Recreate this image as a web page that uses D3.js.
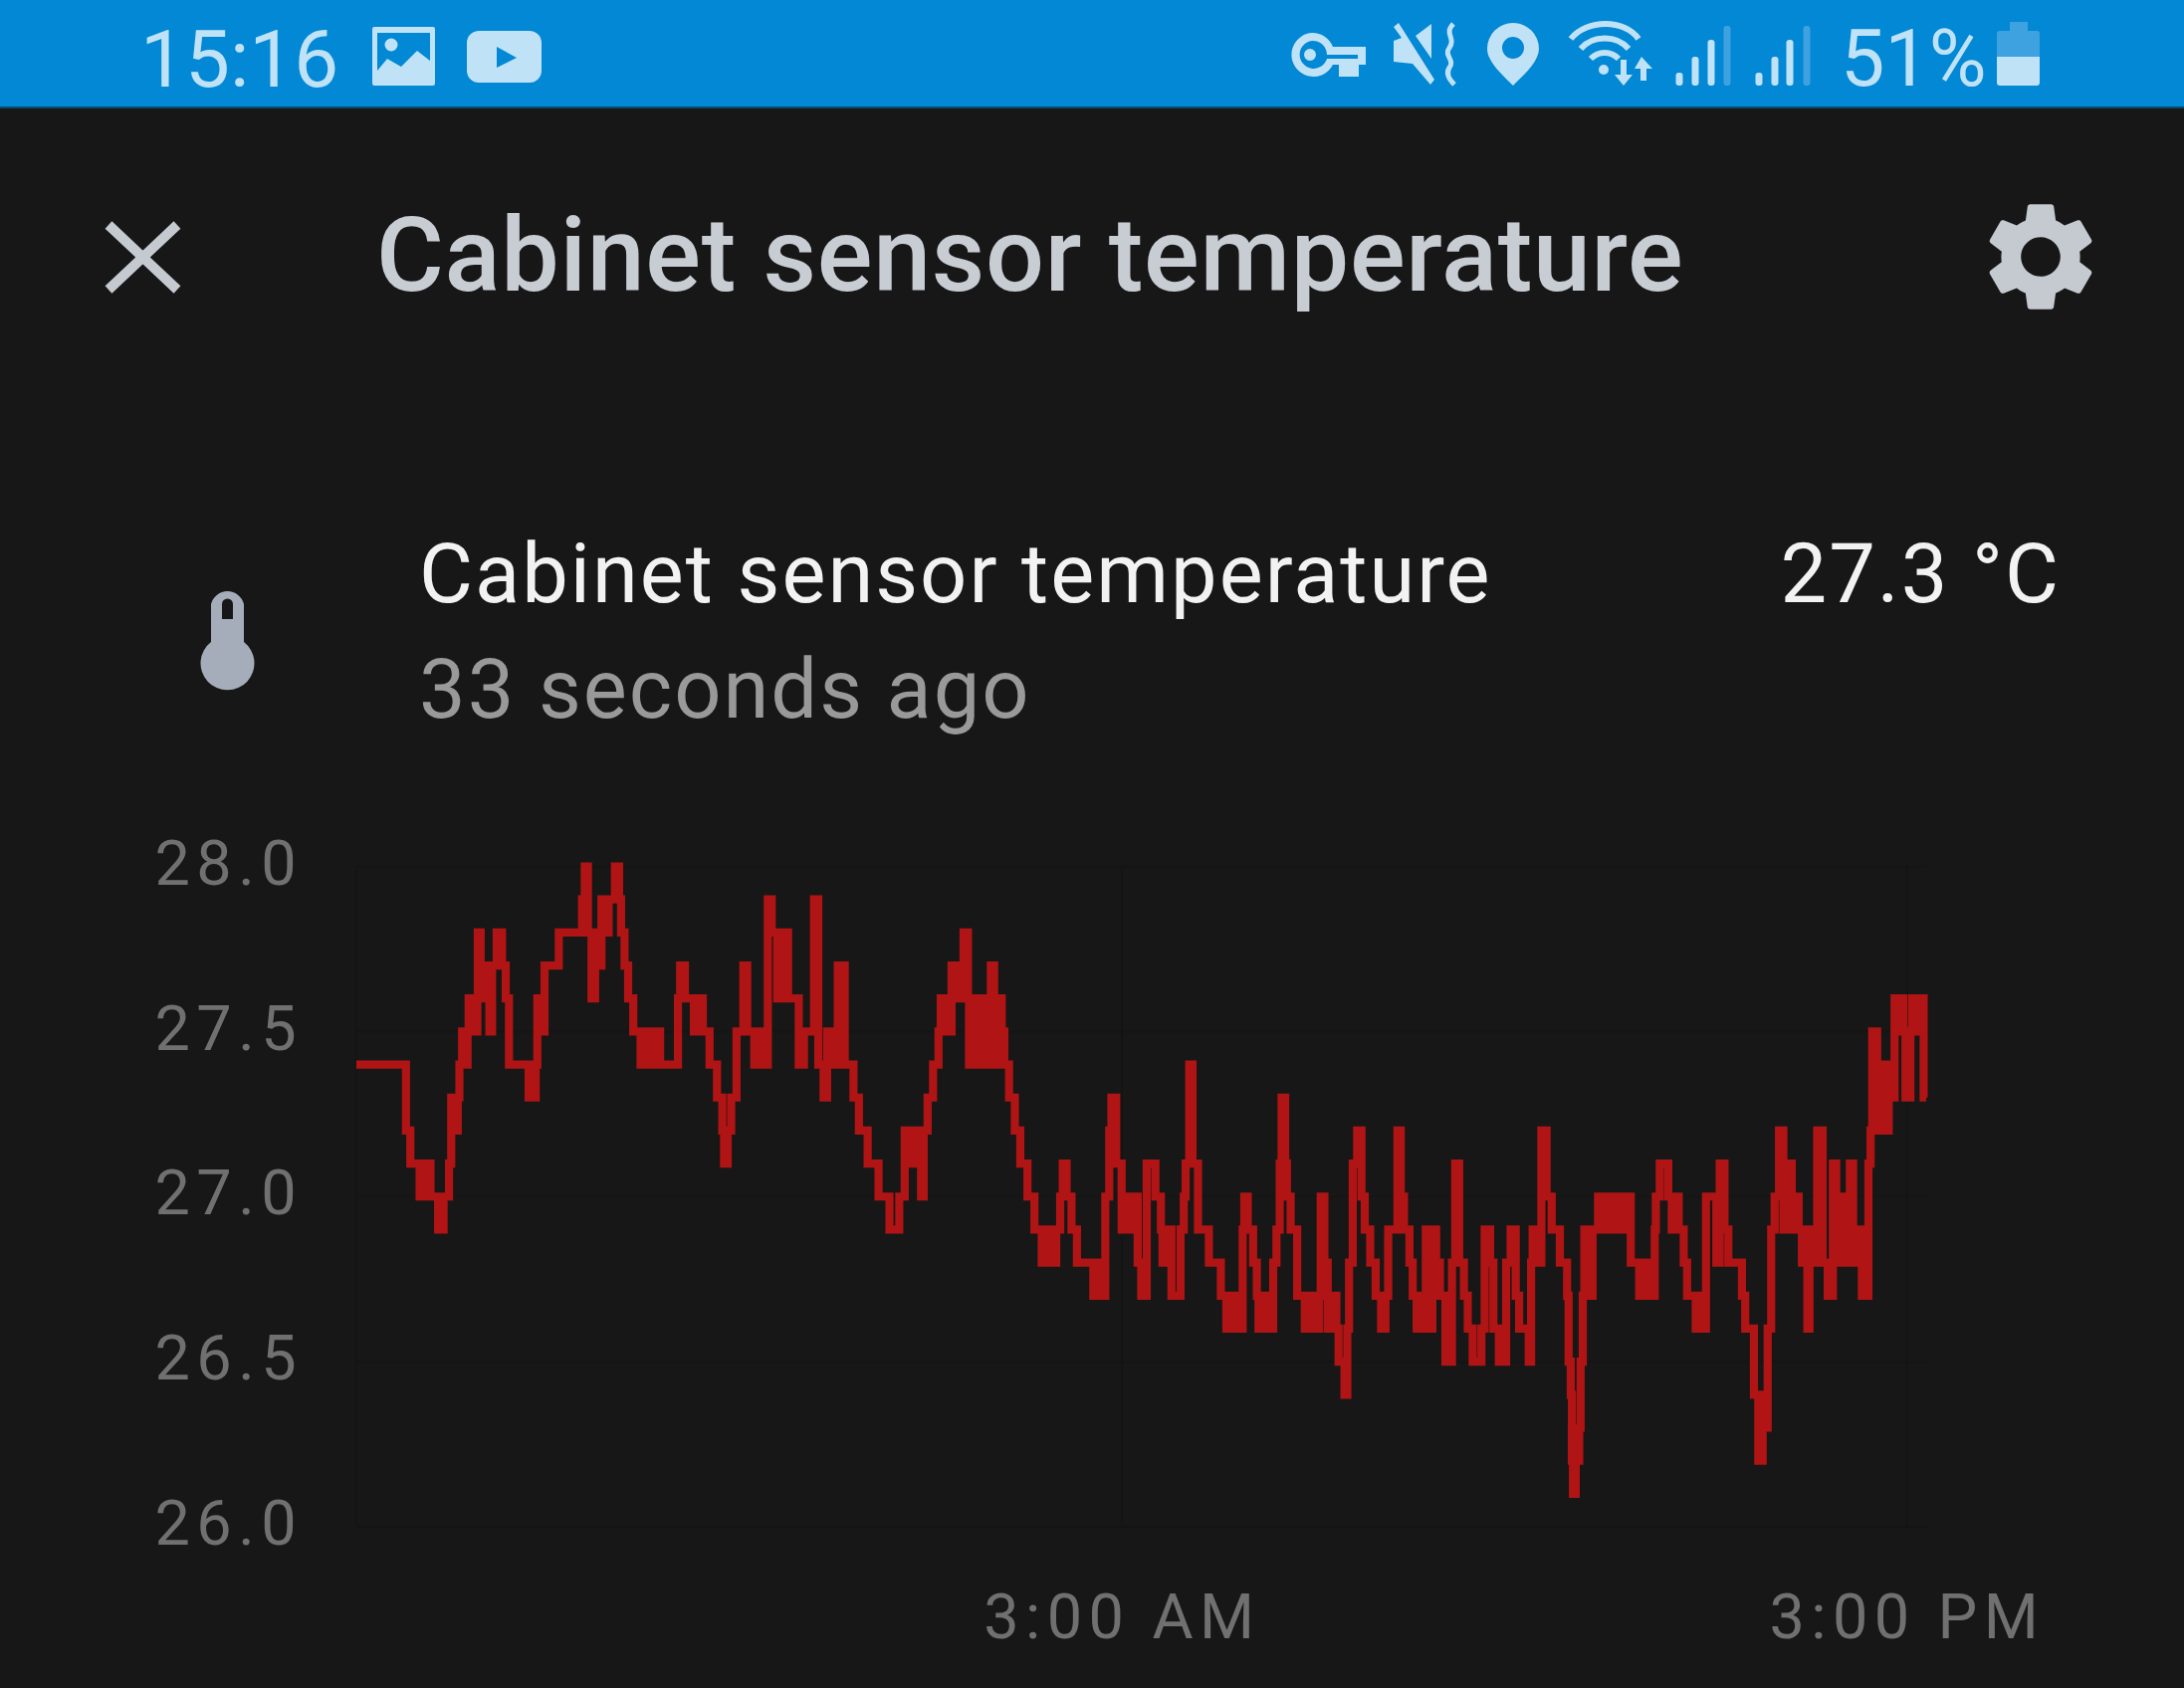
<!DOCTYPE html>
<html><head><meta charset="utf-8">
<script src="https://cdn.jsdelivr.net/npm/d3@7"></script>
<style>html,body{margin:0;padding:0;background:#171717;overflow:hidden}svg{display:block}text{font-family:Roboto,sans-serif}</style>
</head><body><svg id="c" width="2194" height="1696"></svg>
<script>
const titleText = "Cabinet sensor temperature";
const stateText = "27.3 °C";
const agoText = "33 seconds ago";
const yTicks = [28.0, 27.5, 27.0, 26.5, 26.0];
const xTickHours = [3, 15];
const minutes = [0,45.5,49.5,58,62,68,75,80,85,87,90.5,93,94.5,97,99.6,102,103,107,111,111.4,114,119,122,124.5,128.7,133.6,137,140,158,164.5,166,168.8,172.6,185.7,207,209.5,212.4,215.7,219,221.6,224.8,228,231.4,237.2,241,242.8,246,249.3,254,260.7,265.6,270.5,274.7,278.6,295,297,301.4,309.6,313.5,317.8,324,330.8,335.7,337.3,340.6,343.8,348.7,355,358.5,365,370,374,377.4,381,386,391,396,405.8,410.6,419.8,423.7,428.6,431.8,436.7,441.6,445,448,451.4,456,461,469,479,489,498,503,508,514.6,518,520.4,524,529,534,536,541,546,553,557,561,562,566,569,573,578,582,585,589,592,594.4,598.7,604,609,615.6,622,628.7,633.6,638,642,645.6,648,651.5,656,661,676,681,684.7,687,690.6,692.6,697,702,705,708.5,713.4,716.7,720,725,729,733,738,739.5,744,747.7,752.5,756,759,760.7,764,767,772,782,793,798,800,805,809.6,813,814.5,817.7,822.6,826,827.5,832.4,837,841,844,847,848.7,852,853.6,857,863,870,875,880,883,884.6,888,891,894,899,901,906.4,909,910.6,914,918,922,925,930,935,940,944,946.5,955,958,961,966,969,972.6,977,981,984,987,990.5,994,999,1004,1005,1008,1011.6,1016,1019.5,1024,1032,1035,1040,1043,1048,1054.7,1058.8,1063.5,1066.6,1075.4,1077.6,1079,1084,1087,1091.8,1096.5,1104,1110.6,1112,1114,1115,1116,1118.5,1121.7,1123,1125,1126.4,1129.5,1134,1139,1143.7,1146.8,1151.5,1156,1162.5,1165.7,1169,1176.7,1181.4,1187.7,1191,1192,1195.6,1203.4,1206.6,1209.7,1213,1217.6,1220.7,1228.6,1233.3,1236.5,1238,1242.7,1247.5,1250.6,1255,1258.5,1271,1274,1282,1286,1290,1293,1294.6,1297.8,1301,1305,1309,1312,1316.7,1320,1323,1326,1331,1333,1337,1340,1345,1349.7,1354.4,1357.5,1362,1367,1370,1373,1378,1381,1387,1389,1390.5,1395,1398,1402.5,1405.6,1408.8,1411,1414,1417,1419,1421,1425.5,1427,1431,1433,1437.7,1440];
const temps = [27.4,27.2,27.1,27.0,27.1,27.0,26.9,27.0,27.1,27.3,27.2,27.3,27.4,27.5,27.4,27.5,27.6,27.5,27.6,27.8,27.6,27.7,27.5,27.7,27.8,27.7,27.6,27.4,27.3,27.4,27.6,27.5,27.7,27.8,27.9,28.0,27.8,27.6,27.8,27.7,27.9,27.8,27.9,28.0,27.9,27.8,27.7,27.6,27.5,27.4,27.5,27.4,27.5,27.4,27.6,27.7,27.6,27.5,27.6,27.5,27.4,27.3,27.2,27.1,27.2,27.3,27.5,27.7,27.5,27.4,27.5,27.4,27.9,27.8,27.6,27.8,27.6,27.4,27.5,27.9,27.4,27.3,27.5,27.4,27.7,27.7,27.4,27.4,27.3,27.2,27.1,27.0,26.9,27.0,27.2,27.1,27.2,27.0,27.2,27.3,27.4,27.5,27.6,27.5,27.7,27.6,27.8,27.6,27.4,27.6,27.4,27.6,27.4,27.7,27.4,27.6,27.5,27.4,27.3,27.2,27.1,27.0,26.9,26.8,26.9,26.8,26.9,27.0,27.1,27.0,26.9,26.8,26.7,26.8,26.7,27.0,27.2,27.3,27.1,26.9,27.0,26.9,27.0,26.8,26.7,27.1,27.1,27.0,26.9,26.8,26.9,26.7,26.7,26.9,27.0,27.1,27.4,27.1,26.9,26.8,26.7,26.6,26.6,26.7,26.6,26.9,27.0,26.9,26.8,26.7,26.6,26.7,26.6,26.8,26.9,27.1,27.3,27.1,27.0,26.9,26.7,26.6,26.7,26.6,26.7,27.0,26.8,26.6,26.7,26.6,26.5,26.4,26.6,26.8,27.1,27.2,27.0,26.9,26.8,26.7,26.6,26.7,26.9,27.2,27.0,26.9,26.8,26.7,26.6,26.7,26.9,26.6,26.9,26.8,26.7,26.5,26.5,26.8,27.1,26.8,26.7,26.6,26.5,26.6,26.9,26.8,26.6,26.5,26.8,26.9,26.7,26.6,26.5,26.8,26.9,26.8,27.2,27.0,26.9,26.8,26.7,26.5,26.4,26.2,26.1,26.2,26.3,26.5,26.7,26.9,26.7,26.9,27.0,26.9,27.0,26.9,27.0,26.9,27.0,26.8,26.7,26.8,26.7,26.9,27.0,27.1,27.0,26.9,27.0,26.9,26.8,26.7,26.6,26.7,26.6,27.0,27.0,26.8,27.1,26.9,26.8,26.7,26.6,26.4,26.2,26.4,26.3,26.6,26.9,27.0,27.2,26.9,27.1,26.9,27.0,26.9,26.8,26.6,26.9,26.8,27.2,26.8,26.7,27.1,26.8,27.0,26.8,27.1,26.8,26.9,26.7,27.1,27.2,27.5,27.2,27.4,27.2,27.4,27.3,27.6,27.5,27.6,27.5,27.3,27.5,27.6,27.5,27.6,27.3,27.3];

const startTime = new Date(2021, 5, 1, 15, 18);
const series = minutes.map((m, i) => ({t: new Date(startTime.getTime() + m * 60000), v: temps[i]}));

const svg = d3.select("#c");
const ink = "#bfe2f6", dim = "#3fa2e0";

// status bar
svg.append("rect").attr("width", 2194).attr("height", 107).attr("fill", "#0288d4");
svg.append("rect").attr("y", 107).attr("width", 2194).attr("height", 2).attr("fill", "#0a4a70");
svg.append("text").attr("x", 141).attr("y", 87).attr("font-size", 80).attr("fill", ink).text("15:16");
svg.append("text").attr("x", 1849).attr("y", 86).attr("font-size", 79).attr("fill", ink).text("51%");

// picture icon
svg.append("path").attr("fill", ink).attr("fill-rule", "evenodd").attr("d", "M376 27H435a2 2 0 0 1 2 2V84a2 2 0 0 1-2 2H376a2 2 0 0 1-2-2V29a2 2 0 0 1 2-2ZM379 33V71L389 59 403 67 419 51 432 61V33Z");
svg.append("circle").attr("cx", 393).attr("cy", 45).attr("r", 6.5).attr("fill", ink);
// video icon
svg.append("rect").attr("x", 469).attr("y", 31).attr("width", 75).attr("height", 52).attr("rx", 12).attr("fill", ink);
svg.append("path").attr("d", "M499 47L519 58 499 68Z").attr("fill", "#0288d4");
// key icon
svg.append("path").attr("fill-rule", "evenodd").attr("fill", ink).attr("d", "M1318 33A22 22 0 0 1 1339 47H1372V65H1365V77H1345V65H1339A22 22 0 1 1 1318 33ZM1318 41A14 14 0 1 0 1333 59H1364V55H1333A14 14 0 0 0 1318 41ZM1316 49A6 6 0 1 1 1316 61 6 6 0 0 1 1316 49Z");
// vibrate / mute icon
svg.append("path").attr("fill", ink).attr("d", "M1400 27L1405 23 1441 80 1437 85 1419 64 1400 62V41L1408 38ZM1422 36L1438 24V59Z");
svg.append("path").attr("fill", "none").attr("stroke", ink).attr("stroke-width", 5).attr("d", "M1460 24C1450 34 1463 38 1456 48C1450 56 1462 60 1456 68C1452 74 1456 80 1461 85");
// pin icon
svg.append("path").attr("fill-rule", "evenodd").attr("fill", ink).attr("d", "M1520 23A26 26 0 0 1 1546 49C1546 62 1530 76 1520 86 1510 76 1494 62 1494 49A26 26 0 0 1 1520 23ZM1520 37A11 11 0 1 0 1520 59 11 11 0 0 0 1520 37Z");
// wifi icon
const wifi = svg.append("g").attr("fill", "none").attr("stroke", ink).attr("stroke-width", 6);
wifi.append("path").attr("d", "M1578 39C1594 19 1632 19 1646 39");
wifi.append("path").attr("d", "M1588 49C1600 35 1624 35 1636 49");
wifi.append("path").attr("d", "M1598 59C1606 51 1618 51 1626 59");
svg.append("circle").attr("cx", 1611).attr("cy", 70).attr("r", 5).attr("fill", ink);
svg.append("path").attr("fill", ink).attr("d", "M1628 60H1634V75H1640L1631 86 1622 75H1628ZM1649 57L1660 69H1654V81H1648V69H1642Z");
// signal icons
[[1687,73,ink],[1703,57,ink],[1719,40,ink],[1735,26,dim],[1767,73,ink],[1783,57,ink],[1798,40,ink],[1815,26,dim]].forEach(b => {
  svg.append("rect").attr("x", b[0]-3.5).attr("y", b[1]).attr("width", 7).attr("height", 86-b[1]).attr("rx", 3).attr("fill", b[2]);
});
// battery icon
svg.append("path").attr("fill", dim).attr("d", "M2019 22H2037V31H2046Q2049 31 2049 34V57H2006V34Q2006 31 2009 31H2019Z");
svg.append("path").attr("fill", ink).attr("d", "M2006 57H2049V83Q2049 86 2046 86H2009Q2006 86 2006 83Z");

// header
svg.append("path").attr("d", "M109 226L178 291M178 226L109 291").attr("stroke", "#c5cad1").attr("stroke-width", 10).attr("fill", "none");
svg.append("text").attr("x", 378).attr("y", 292).attr("font-size", 104).attr("letter-spacing", 0.7).attr("font-weight", 500).attr("fill", "#c8ccd3").text(titleText);
svg.append("path").attr("transform", "translate(1984,192) scale(5.5)").attr("fill", "#c5cad1").attr("fill-rule", "evenodd")
  .attr("d", "M19.14 12.94c.04-.3.06-.61.06-.94 0-.32-.02-.64-.07-.94l2.03-1.58c.18-.14.23-.41.12-.61l-1.92-3.32c-.12-.22-.37-.29-.59-.22l-2.39.96c-.5-.38-1.03-.7-1.62-.94l-.36-2.54c-.04-.24-.24-.41-.48-.41h-3.84c-.24 0-.43.17-.47.41l-.36 2.54c-.59.24-1.13.57-1.62.94l-2.39-.96c-.22-.08-.47 0-.59.22L2.74 8.87c-.12.21-.08.47.12.61l2.03 1.58c-.05.3-.09.63-.09.94s.02.64.07.94l-2.03 1.58c-.18.14-.23.41-.12.61l1.92 3.32c.12.22.37.29.59.22l2.39-.96c.5.38 1.03.7 1.62.94l.36 2.54c.05.24.24.41.48.41h3.84c.24 0 .44-.17.47-.41l.36-2.54c.59-.24 1.13-.56 1.62-.94l2.39.96c.22.08.47 0 .59-.22l1.92-3.32c.12-.22.07-.47-.12-.61l-2.01-1.58zM12 15.6c-1.98 0-3.6-1.62-3.6-3.6s1.62-3.6 3.6-3.6 3.6 1.62 3.6 3.6-1.62 3.6-3.6 3.6z");

// state row
svg.append("path").attr("fill", "#a5adba").attr("fill-rule", "evenodd").attr("d", "M212 645V607A17 17 0 0 1 245 607V645A27 27 0 1 1 212 645ZM223 622H234V607A5.5 5.5 0 0 0 223 607Z");
svg.append("text").attr("x", 421).attr("y", 605).attr("font-size", 83).attr("letter-spacing", 2).attr("fill", "#f2f2f2").text(titleText);
svg.append("text").attr("x", 421).attr("y", 721).attr("font-size", 83).attr("letter-spacing", 2).attr("fill", "#999").text(agoText);
svg.append("text").attr("x", 2070).attr("y", 605).attr("font-size", 83).attr("letter-spacing", 2).attr("text-anchor", "end").attr("fill", "#f2f2f2").text(stateText);

// chart
const x = d3.scaleTime().domain([startTime, d3.timeMinute.offset(startTime, 1440)]).range([358, 1935]);
const y = d3.scaleLinear().domain([26, 28]).range([1534, 870.5]);
const grid = "#131313", tickInk = "#707070";
const tickTimes = xTickHours.map(h => new Date(2021, 5, 2, h, 0));

const yAxis = d3.axisLeft(y).tickValues(yTicks).tickSize(0).tickPadding(54).tickFormat(d3.format(".1f"));
const xAxis = d3.axisBottom(x).tickValues(tickTimes).tickSize(0).tickPadding(99).tickFormat(d3.timeFormat("%-I:%M %p"));
const gy = svg.append("g").attr("transform", "translate(358,0)").call(yAxis);
const gx = svg.append("g").attr("transform", "translate(0,1534)").call(xAxis);
[gx, gy].forEach(g => {
  g.select(".domain").remove();
  g.selectAll("text").attr("font-family", "Roboto, sans-serif").attr("font-size", 63).attr("letter-spacing", 6.4).attr("fill", tickInk);
});
gy.selectAll("text").attr("dy", "0.28em");
gx.selectAll("text").attr("dy", "0.2em");

svg.append("g").selectAll("line").data(yTicks).join("line")
  .attr("x1", 358).attr("x2", 1936).attr("y1", d => y(d)).attr("y2", d => y(d))
  .attr("stroke", grid).attr("stroke-width", 2).attr("opacity", d => d === 26 ? 1 : .4);
svg.append("g").selectAll("line").data([startTime, ...tickTimes]).join("line")
  .attr("x1", d => x(d)).attr("x2", d => x(d)).attr("y1", y(28)).attr("y2", y(26))
  .attr("stroke", grid).attr("stroke-width", 2).attr("opacity", .6);

const line = d3.line().x(d => x(d.t)).y(d => y(d.v)).curve(d3.curveStepAfter);
svg.append("path").datum(series).attr("d", line).attr("fill", "none").attr("stroke", "#b01414")
  .attr("stroke-width", 8.2).attr("stroke-linejoin", "miter").attr("stroke-linecap", "butt");
</script></body></html>
